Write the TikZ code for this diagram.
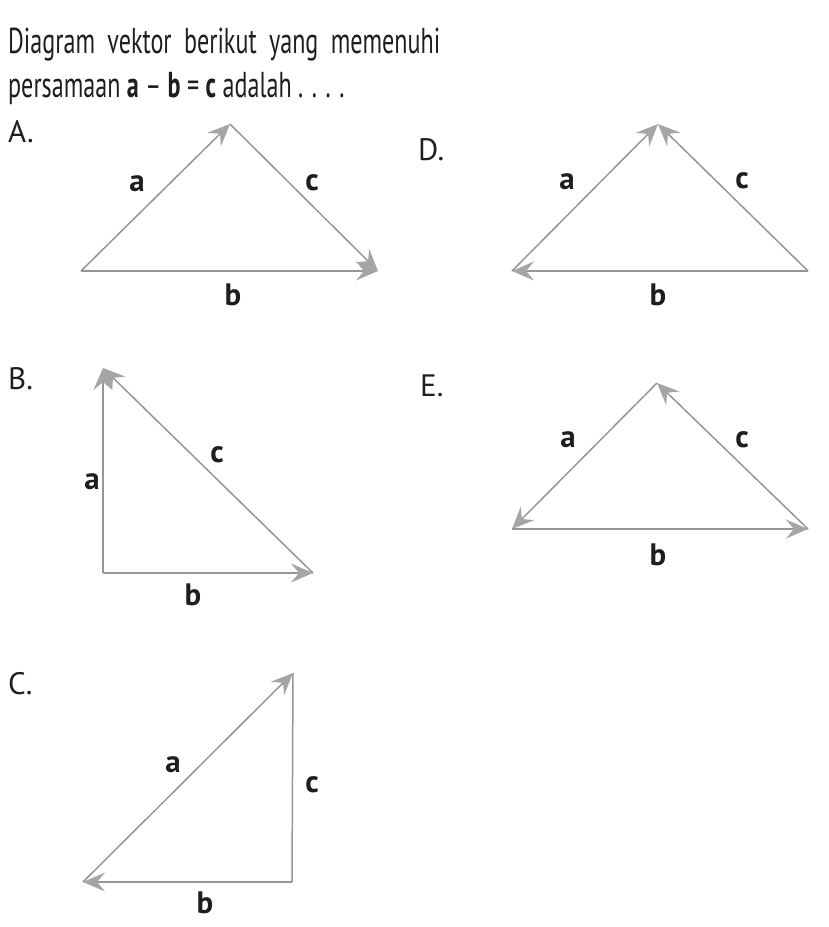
\documentclass[tikz,border=0pt]{standalone}
\usepackage{fontspec}
\setmainfont{PT Sans}
\usetikzlibrary{arrows.meta}
\definecolor{vecgray}{RGB}{150,150,150}
\definecolor{tipgray}{RGB}{165,165,165}
\definecolor{txt}{RGB}{30,30,30}
\newcommand{\cond}[1]{\scalebox{0.67}[1]{#1}}
\tikzset{
  vec/.style={draw=vecgray, line width=1.5pt, -{Stealth[length=22pt,width=19pt,inset=8pt,fill=tipgray,color=tipgray]}},
  seg/.style={draw=vecgray, line width=1.5pt},
  lbl/.style={font=\fontsize{31}{34}\selectfont\bfseries, text=txt, inner sep=0pt},
  opt/.style={font=\fontsize{31}{34}\selectfont, text=txt, inner sep=0pt, anchor=base west},
  ttl/.style={font=\fontsize{36}{40}\selectfont, text=txt, inner sep=0pt, anchor=base west}
}
\begin{document}
\begin{tikzpicture}[x=1pt,y=-1pt]
\useasboundingbox (0,0) rectangle (828,927);
% title
\node[ttl] (t1) at (8,53) {\cond{\makebox[645pt][s]{Diagram vektor berikut yang memenuhi}}};
\node[ttl] (t2) at (8,97) {\cond{persamaan \textbf{a} -- \textbf{b} = \textbf{c} adalah . . . .}};
% option letters
\node[opt] (oA) at (8,142) {A.};
\node[opt] (oD) at (418,160) {D.};
\node[opt] (oB) at (8,389) {B.};
\node[opt] (oE) at (420,396) {E.};
\node[opt] (oC) at (8,694) {C.};
% A
\coordinate (A1) at (81,271); \coordinate (A2) at (230,124); \coordinate (A3) at (378,271);
\draw[vec] (A1) -- (A2);
\draw[vec] (A2) -- (A3);
\draw[vec] (A1) -- (A3);
\node[lbl] (Aa) at (137,184) {a};
\node[lbl] (Ac) at (312,183) {c};
\node[lbl] (Ab) at (233,295) {b};
% D
\coordinate (D1) at (512,271); \coordinate (D2) at (658,124); \coordinate (D3) at (808,271);
\draw[vec] (D1) -- (D2);
\draw[vec] (D3) -- (D2);
\draw[vec] (D3) -- (D1);
\node[lbl] (Da) at (567,182) {a};
\node[lbl] (Dc) at (742,181) {c};
\node[lbl] (Db) at (658,295) {b};
% B
\coordinate (B1) at (103,573); \coordinate (B2) at (103,368); \coordinate (B3) at (313,573);
\draw[vec] (B1) -- (B2);
\draw[vec] (B3) -- (B2);
\draw[vec] (B1) -- (B3);
\node[lbl] (Ba) at (92,482) {a};
\node[lbl] (Bc) at (217,455) {c};
\node[lbl] (Bb) at (193,595) {b};
% E
\coordinate (E1) at (512,529); \coordinate (E2) at (657,383); \coordinate (E3) at (808,529);
\draw[vec] (E2) -- (E1);
\draw[vec] (E3) -- (E2);
\draw[vec] (E1) -- (E3);
\node[lbl] (Ea) at (568,440) {a};
\node[lbl] (Ec) at (742,440) {c};
\node[lbl] (Eb) at (658,555) {b};
% C
\coordinate (C1) at (83,882); \coordinate (C2) at (293,673); \coordinate (C3) at (292,882);
\draw[seg] (C3) -- (C2);
\draw[vec] (C1) -- (C2);
\draw[vec] (C3) -- (C1);
\node[lbl] (Ca) at (173,765) {a};
\node[lbl] (Cc) at (312,785) {c};
\node[lbl] (Cb) at (205,903) {b};
\end{tikzpicture}
\end{document}
